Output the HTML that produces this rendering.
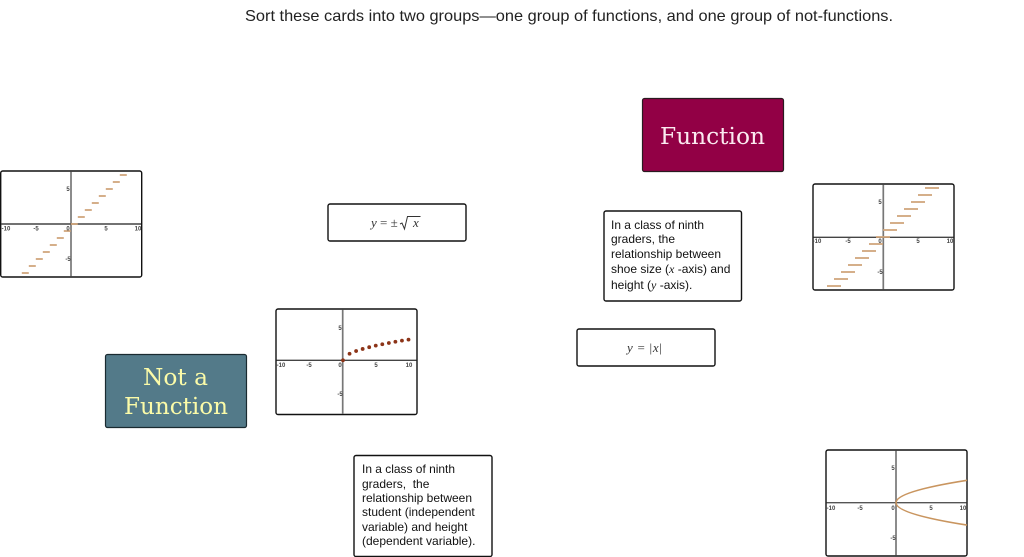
<!DOCTYPE html>
<html>
<head>
<meta charset="utf-8">
<style>
html,body{margin:0;padding:0;background:#fff;width:1024px;height:557px;overflow:hidden}
svg{display:block;filter:blur(.3px)}
text{font-family:"Liberation Sans",sans-serif}
.t{font-size:12px;fill:#111}
.m{font-family:"Liberation Serif",serif;font-size:13px;fill:#333}
.i{font-style:italic}
.l{font-size:6px;font-weight:bold;fill:#444;text-anchor:middle}
.box{fill:#fff;stroke:#111;stroke-width:1.4}
.ax{stroke:#777;stroke-width:1.7;fill:none}
.h{stroke:#444;stroke-width:1.4}
.st{fill:none;stroke:#cfa47a;stroke-width:1.7}
.hd{font-family:"DejaVu Serif",serif;font-size:23px}
</style>
</head>
<body>
<svg width="1024" height="557" viewBox="0 0 1024 557" xmlns="http://www.w3.org/2000/svg">
<text x="245" y="21" font-size="16" fill="#222" textLength="648" lengthAdjust="spacingAndGlyphs">Sort these cards into two groups—one group of functions, and one group of not-functions.</text>

<!-- Function -->
<rect x="642.5" y="98.5" width="141" height="73" rx="2" fill="#920045" stroke="#2a1a20" stroke-width="1.2"/>
<text class="hd" x="660" y="144" fill="#fbeaf0" textLength="105" lengthAdjust="spacingAndGlyphs">Function</text>

<!-- Not a Function -->
<rect x="105.5" y="354.5" width="141" height="73" rx="2" fill="#537a89" stroke="#1a2a30" stroke-width="1.2"/>
<text class="hd" x="143" y="385" fill="#fbfba8" textLength="65" lengthAdjust="spacingAndGlyphs">Not a</text>
<text class="hd" x="124" y="414" fill="#fbfba8" textLength="104" lengthAdjust="spacingAndGlyphs">Function</text>

<!-- Graph 1 -->
<rect class="box" x="0.7" y="171" width="141" height="106" rx="2"/>
<path class="ax" d="M71 171.5V276.5"/>
<path class="h" d="M1 224H141"/>
<path class="st" d="M119.8 175h7M112.8 182h7M105.8 189h7M98.8 196h7M91.8 203h7M84.8 210h7M77.8 217h7M70.8 224h7M63.8 231h7M56.8 238h7M49.8 245h7M42.8 252h7M35.8 259h7M28.8 266h7M21.8 273h7"/>
<g>
<text class="l" x="6" y="230.5">-10</text><text class="l" x="36" y="230.5">-5</text><text class="l" x="68" y="230.5">0</text><text class="l" x="106" y="230.5">5</text><text class="l" x="138" y="230.5">10</text>
<text class="l" x="68" y="191">5</text><text class="l" x="68" y="261">-5</text>
</g>

<!-- Graph 4 -->
<rect class="box" x="813" y="184" width="141" height="106" rx="2"/>
<path class="ax" d="M883.3 184.5V289.5"/>
<path class="h" d="M813.5 237.3H953.5"/>
<path class="st" d="M925 188h14M918 195h14M911 202h14M904 209h14M897 216h14M890 223h14M883 230h14M876 237h14M869 244h14M862 251h14M855 258h14M848 265h14M841 272h14M834 279h14M827 286h14"/>
<g>
<text class="l" x="817" y="243">-10</text><text class="l" x="848" y="243">-5</text><text class="l" x="880" y="243">0</text><text class="l" x="918" y="243">5</text><text class="l" x="950" y="243">10</text>
<text class="l" x="880" y="204">5</text><text class="l" x="880" y="274">-5</text>
</g>

<!-- Graph 2 -->
<rect class="box" x="276" y="309" width="141" height="105.5" rx="2"/>
<path class="ax" d="M342.7 309.5V414"/>
<path class="h" d="M276.5 360.3H416.5"/>
<g fill="#8c3418">
<circle cx="343" cy="360.3" r="1.9"/><circle cx="349.55" cy="353.75" r="1.9"/><circle cx="356.1" cy="351.04" r="1.9"/><circle cx="362.65" cy="348.95" r="1.9"/><circle cx="369.2" cy="347.2" r="1.9"/><circle cx="375.75" cy="345.65" r="1.9"/><circle cx="382.3" cy="344.26" r="1.9"/><circle cx="388.85" cy="342.97" r="1.9"/><circle cx="395.4" cy="341.77" r="1.9"/><circle cx="401.95" cy="340.65" r="1.9"/><circle cx="408.5" cy="339.59" r="1.9"/>
</g>
<g>
<text class="l" x="281" y="367">-10</text><text class="l" x="309" y="367">-5</text><text class="l" x="340" y="367">0</text><text class="l" x="376" y="367">5</text><text class="l" x="409" y="367">10</text>
<text class="l" x="340" y="330">5</text><text class="l" x="340" y="396">-5</text>
</g>

<!-- Graph 3 -->
<rect class="box" x="826" y="450" width="141" height="106" rx="2"/>
<path class="ax" d="M896 450.5V555.5"/>
<path class="h" style="stroke:#555" d="M826.5 502.7H966.5"/>
<path d="M967 480.3Q825 502.7 967 525.1" fill="none" stroke="#c9955f" stroke-width="1.6"/>
<g>
<text class="l" x="831" y="510">-10</text><text class="l" x="860" y="510">-5</text><text class="l" x="893" y="510">0</text><text class="l" x="931" y="510">5</text><text class="l" x="963" y="510">10</text>
<text class="l" x="893" y="470">5</text><text class="l" x="893" y="540">-5</text>
</g>

<!-- Equation cards -->
<rect class="box" x="328" y="204" width="138" height="37" rx="2"/>
<text class="m" x="371" y="227"><tspan class="i">y</tspan> = ±</text>
<path d="M400 224l2 -1 2.5 6 3-12.5h13" fill="none" stroke="#333" stroke-width="1"/>
<text class="m i" x="413" y="227">x</text>

<rect class="box" x="577" y="329" width="138" height="37" rx="2"/>
<text class="m" x="627" y="352" textLength="35"><tspan class="i">y</tspan> = |<tspan class="i">x</tspan>|</text>

<!-- Text card 1 -->
<rect class="box" x="604" y="211" width="137.5" height="90" rx="2"/>
<text class="t" x="611" y="229" textLength="93" lengthAdjust="spacingAndGlyphs">In a class of ninth</text>
<text class="t" x="611" y="243" textLength="64" lengthAdjust="spacingAndGlyphs">graders, the</text>
<text class="t" x="611" y="258" textLength="110" lengthAdjust="spacingAndGlyphs">relationship between</text>
<text class="t" x="611" y="273">shoe size (<tspan font-family="Liberation Serif" font-style="italic">x</tspan> -axis) and</text>
<text class="t" x="611" y="289">height (<tspan font-family="Liberation Serif" font-style="italic">y</tspan> -axis).</text>

<!-- Text card 2 -->
<rect class="box" x="354" y="455.5" width="138" height="101" rx="2"/>
<text class="t" x="362" y="473" textLength="93" lengthAdjust="spacingAndGlyphs">In a class of ninth</text>
<text class="t" x="362" y="488" xml:space="preserve">graders,  the</text>
<text class="t" x="362" y="502" textLength="110" lengthAdjust="spacingAndGlyphs">relationship between</text>
<text class="t" x="362" y="516">student (independent</text>
<text class="t" x="362" y="531">variable) and height</text>
<text class="t" x="362" y="545">(dependent variable).</text>
</svg>
</body>
</html>
